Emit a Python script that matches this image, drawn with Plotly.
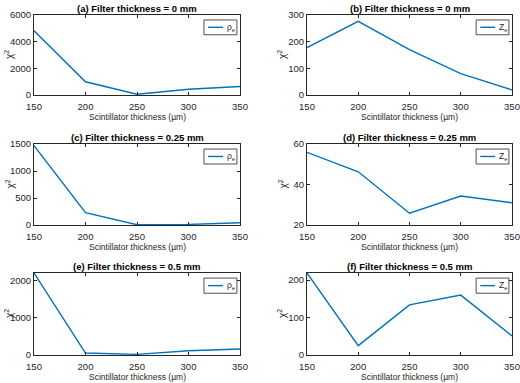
import plotly.graph_objects as go

thickness = [150, 200, 250, 300, 350]
rho_f0 = [4820, 990, 60, 430, 640]
z_f0 = [178, 276, 170, 80, 19]
rho_f025 = [1470, 227, 5, 10, 43]
z_f025 = [55.9, 46.3, 25.8, 34.3, 31.0]
rho_f05 = [2195, 53, 18, 115, 160]
z_f05 = [219, 25, 134, 160, 51]

titles = ["(a) Filter thickness = 0 mm", "(b) Filter thickness = 0 mm",
          "(c) Filter thickness = 0.25 mm", "(d) Filter thickness = 0.25 mm",
          "(e) Filter thickness = 0.5 mm", "(f) Filter thickness = 0.5 mm"]
legend_labels = ["ρ<sub>e</sub>", "Z<sub>e</sub>"] * 3
series = [rho_f0, z_f0, rho_f025, z_f025, rho_f05, z_f05]
y_ranges = [[0, 6000], [0, 300], [0, 1500], [20, 60], [0, 2195], [0, 219]]
y_ticks = [[0, 2000, 4000, 6000], [0, 100, 200, 300], [0, 500, 1000, 1500],
           [20, 40, 60], [0, 1000, 2000], [0, 100, 200]]
x_ticks = [150, 200, 250, 300, 350]

W, H = 520, 383
col_px = [(34, 240), (307, 512)]
row_px = [(15, 95), (144, 225), (273, 355)]

FONT = "Liberation Sans, Arial, sans-serif"
TXT = "#262626"
LINE = "#0072BD"

fig = go.Figure()
annotations = []
shapes = []
for i in range(6):
    r, c = divmod(i, 2)
    n = i + 1
    xs = "" if n == 1 else str(n)
    x0p, x1p = col_px[c]
    y0p, y1p = row_px[r]
    fig.add_trace(go.Scatter(x=thickness, y=series[i], mode="lines",
                             line=dict(color=LINE, width=1.4),
                             xaxis="x" + xs, yaxis="y" + xs, showlegend=False))
    axcommon = dict(showgrid=False, zeroline=False, showline=True, mirror="ticks",
                    linecolor=TXT, linewidth=1, ticks="inside", ticklen=3,
                    tickcolor=TXT, automargin=False,
                    tickfont=dict(family=FONT, size=9.5, color=TXT))
    fig.update_layout(**{
        "xaxis" + xs: dict(domain=[x0p / W, x1p / W], range=[150, 350],
                           tickvals=x_ticks, anchor="y" + xs, ticklabelstandoff=3,
                           **axcommon),
        "yaxis" + xs: dict(domain=[1 - y1p / H, 1 - y0p / H], range=y_ranges[i],
                           tickvals=y_ticks[i], anchor="x" + xs, **axcommon),
    })
    xd, yd = "x" + xs + " domain", "y" + xs + " domain"
    annotations.append(dict(text="<b>" + titles[i] + "</b>", xref=xd, yref=yd,
                            x=0.5, y=1, xanchor="center", yanchor="bottom", yshift=-1,
                            showarrow=False, font=dict(family=FONT, size=9.5, color="black")))
    annotations.append(dict(text="Scintillator thickness (µm)", xref=xd, yref=yd,
                            x=0.5, y=0, xanchor="center", yanchor="top", yshift=-16,
                            borderpad=0,
                            showarrow=False, font=dict(family=FONT, size=8.5, color=TXT)))
    annotations.append(dict(text="χ<sup>2</sup>", xref=xd, yref=yd, textangle=-90,
                            x=0, y=0.5, xanchor="center", yanchor="middle", xshift=-25,
                            showarrow=False, font=dict(family=FONT, size=10, color=TXT)))
    # legend box
    shapes.append(dict(type="rect", xref=xd, yref=yd, x0=0.825, x1=0.985,
                       y0=0.753, y1=0.938, line=dict(color=TXT, width=0.8),
                       fillcolor="white"))
    shapes.append(dict(type="line", xref=xd, yref=yd, x0=0.845, x1=0.918,
                       y0=0.846, y1=0.846, line=dict(color=LINE, width=1.4)))
    annotations.append(dict(text=legend_labels[i], xref=xd, yref=yd, x=0.925, y=0.846,
                            xanchor="left", yanchor="middle", showarrow=False,
                            font=dict(family=FONT, size=8.5, color=TXT)))

fig.update_layout(width=W, height=H, margin=dict(l=0, r=0, t=0, b=0),
                  paper_bgcolor="white", plot_bgcolor="white",
                  annotations=annotations, shapes=shapes)
fig.write_html("out.html", config={"displayModeBar": False},
               post_script="document.body.style.margin='0';")
